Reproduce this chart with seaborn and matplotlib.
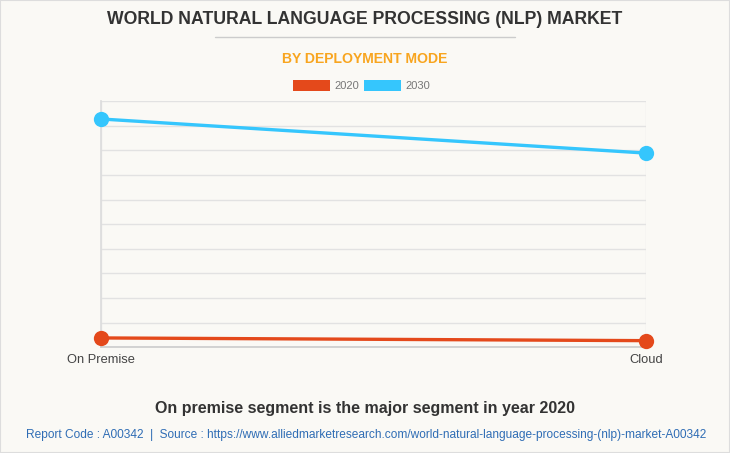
import matplotlib
matplotlib.use("Agg")
import matplotlib.pyplot as plt
import seaborn as sns
import pandas as pd
from matplotlib.patches import Rectangle

categories = ["On Premise", "Cloud"]
values_2020 = [7.6, 5.4]
values_2030 = [185.4, 157.7]
years = ["2020", "2030"]

BG = "#faf9f5"
RED = "#e4491b"
BLUE = "#35c6fd"

sns.set_theme(style="white")
plt.rcParams["font.family"] = ["Liberation Sans", "DejaVu Sans"]

df = pd.DataFrame({
    "segment": categories * 2,
    "value": values_2020 + values_2030,
    "year": [years[0]] * 2 + [years[1]] * 2,
})

fig = plt.figure(figsize=(7.3, 4.53), dpi=100, facecolor=BG)
ax = fig.add_axes([101 / 730, 1 - 347.3 / 453, (646 - 101) / 730, (347.3 - 101) / 453])
ax.set_facecolor(BG)

sns.lineplot(data=df, x="segment", y="value", hue="year", palette=[RED, BLUE],
             marker="o", markersize=11, markeredgewidth=0, linewidth=2.4,
             ax=ax, legend=False, sort=False, zorder=5)
for ln in ax.lines:
    ln.set_clip_on(False)
    ln.set_zorder(5)

ax.set_xlim(0, 1)
ax.set_ylim(0, 200)
ax.set_yticks(range(0, 201, 20))
ax.set_yticklabels([])
ax.tick_params(axis="y", length=9, color="#e2e2e2", width=1)
ax.tick_params(axis="x", length=0, labelsize=9.3, labelcolor="#444444", pad=5)
ax.grid(axis="y", color="#e2e2e2", linewidth=1)
ax.grid(axis="x", color="#e6e6e6", linewidth=1)
ax.set_axisbelow(True)
ax.set_xlabel("")
ax.set_ylabel("")
for s in ["top", "right"]:
    ax.spines[s].set_visible(False)
ax.spines["left"].set_color("#dddddd")
ax.spines["bottom"].set_color("#cccccc")
ax.spines["bottom"].set_linewidth(1.2)

# Titles
fig.text(0.5, 1 - 20 / 453, "WORLD NATURAL LANGUAGE PROCESSING (NLP) MARKET",
         ha="center", va="center", fontsize=12.7, fontweight="bold", color="#333333")
fig.add_artist(plt.Line2D([215 / 730, 515 / 730], [1 - 37 / 453] * 2, color="#cccccc", linewidth=1))
fig.text(0.5, 1 - 59 / 453, "BY DEPLOYMENT MODE", ha="center", va="center",
         fontsize=10.1, fontweight="bold", color="#f8a51f")

# Legend
for x0, col, lab in [(293, RED, years[0]), (364, BLUE, years[1])]:
    fig.add_artist(Rectangle((x0 / 730, 1 - 91 / 453), 37 / 730, 11 / 453,
                             facecolor=col, edgecolor="none", transform=fig.transFigure))
    fig.text((x0 + 41) / 730, 1 - 86 / 453, lab, ha="left", va="center",
             fontsize=8, color="#777777")

fig.text(0.5, 1 - 408 / 453, "On premise segment is the major segment in year 2020",
         ha="center", va="center", fontsize=11.5, fontweight="bold", color="#333333")
fig.text(366 / 730, 1 - 435 / 453,
         "Report Code : A00342  |  Source : https://www.alliedmarketresearch.com/world-natural-language-processing-(nlp)-market-A00342",
         ha="center", va="center", fontsize=8.58, color="#2f6db5")

fig.add_artist(Rectangle((0, 0), 1, 1, transform=fig.transFigure, fill=False,
                         edgecolor="#dddddd", linewidth=1.5))

fig.savefig("out.png", dpi=100, facecolor=BG)
